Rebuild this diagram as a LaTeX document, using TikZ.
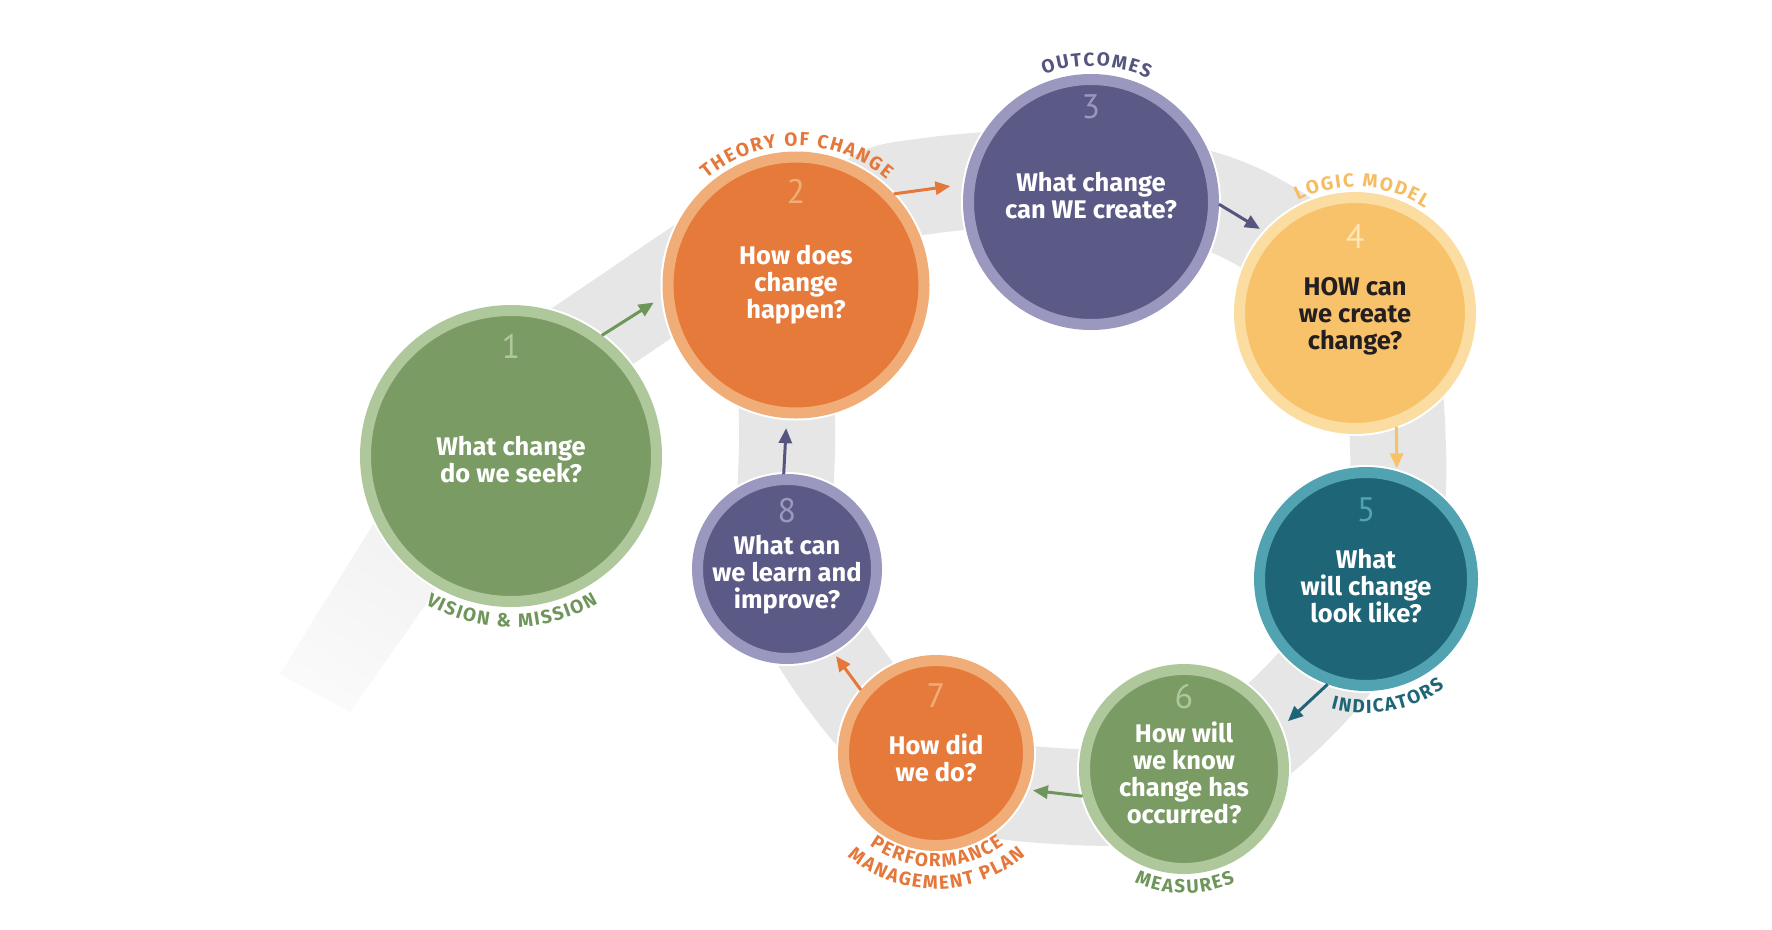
\documentclass[tikz,border=0pt]{standalone}
\usepackage{fontspec}
\setmainfont{Fira Sans}
\newfontfamily\numfont{PT Sans}
\newfontfamily\tagfont{Fira Sans}
\usetikzlibrary{arrows.meta,decorations.text}

\definecolor{bandgray}{HTML}{E6E6E6}
\definecolor{tailmid}{HTML}{F0F0F0}
\definecolor{tailend}{HTML}{FAFAFA}
\definecolor{grnF}{HTML}{7A9B63}
\definecolor{grnR}{HTML}{AEC89C}
\definecolor{grnT}{HTML}{6E955A}
\definecolor{orgF}{HTML}{E57A3B}
\definecolor{orgR}{HTML}{F0AD78}
\definecolor{orgT}{HTML}{E5773A}
\definecolor{purF}{HTML}{5B5A87}
\definecolor{purR}{HTML}{9A98BE}
\definecolor{purT}{HTML}{56557F}
\definecolor{ylwF}{HTML}{F8C26B}
\definecolor{ylwR}{HTML}{FBDDA2}
\definecolor{ylwT}{HTML}{F6BD60}
\definecolor{ylwN}{HTML}{FDE6B8}
\definecolor{tealF}{HTML}{1E6677}
\definecolor{tealR}{HTML}{52A3B1}
\definecolor{inkD}{HTML}{231F20}

\begin{document}
\begin{tikzpicture}[x=1pt,y=1pt,
  stagecircle/.style n args={3}{circle,inner sep=0pt,minimum size=#1,fill=#2,draw=#3,
    line width=11pt,preaction={draw=white,line width=15pt}},
  stagenum/.style={text=#1,font=\numfont\fontsize{34}{34}\selectfont},
  stagetext/.style={text=#1,align=center,font=\bfseries\fontsize{25.5}{27}\selectfont},
  flowarrow/.style={draw=#1,line width=3pt,-{Triangle[length=15pt,width=13pt]}},
  tagarc/.style 2 args={decorate,decoration={text along path,text align=center,
    text={|\tagfont\bfseries\fontsize{19}{19}\selectfont\color{#1}\kern1.7pt|#2}}}]
  \fill[white] (0,0) rectangle (1772,-929); % 背景
  \useasboundingbox (0,0) rectangle (1772,-929); % 図の範囲
  \shade[top color=tailmid,bottom color=tailend,shading angle=-32]
    (280,-674) -- (402,-478) -- (478,-530) -- (350,-712) -- cycle; % 左下へ消えていく帯
  \fill[bandgray] plot[smooth] coordinates {(392,-484) (478,-365) (623,-260) (753,-173)}
    -- plot[smooth] coordinates {(807,-247) (677,-334) (544,-431) (468,-536)}
    -- cycle; % 円1から円2へ入る帯
  \draw[bandgray,line width=96pt] plot[smooth cycle,tension=0.6] coordinates {
    (860,-212) (927,-186) (1088,-180) (1243,-214) (1370,-318) (1398,-448)
    (1380,-585) (1300,-700) (1184,-785) (1057,-796) (936,-770) (843,-676)
    (790,-572) (787,-448) (795,-320)}; % 循環する灰色の帯

  \node[stagecircle={291pt}{grnF}{grnR}] (c1) at (511,-456) {}; % 1
  \node[stagecircle={256pt}{orgF}{orgR}] (c2) at (796,-285) {}; % 2
  \node[stagecircle={245pt}{purF}{purR}] (c3) at (1091,-202) {}; % 3
  \node[stagecircle={231pt}{ylwF}{ylwR}] (c4) at (1355,-313) {}; % 4
  \node[stagecircle={213pt}{tealF}{tealR}] (c5) at (1366,-579) {}; % 5
  \node[stagecircle={199pt}{grnF}{grnR}] (c6) at (1184,-769) {}; % 6
  \node[stagecircle={185pt}{orgF}{orgR}] (c7) at (936,-753) {}; % 7
  \node[stagecircle={179pt}{purF}{purR}] (c8) at (787,-569) {}; % 8

  \node[stagenum=grnR] (n1) at ([yshift=110pt]c1.center) {1}; % 番号
  \node[stagenum=orgR] (n2) at ([yshift=94pt]c2.center) {2};
  \node[stagenum=purR] (n3) at ([yshift=95pt]c3.center) {3};
  \node[stagenum=ylwN] (n4) at ([yshift=77pt]c4.center) {4};
  \node[stagenum=tealR] (n5) at ([yshift=69pt]c5.center) {5};
  \node[stagenum=grnR] (n6) at ([yshift=72pt]c6.center) {6};
  \node[stagenum=orgR] (n7) at ([yshift=57pt]c7.center) {7};
  \node[stagenum=purR] (n8) at ([yshift=58pt]c8.center) {8};

  \node[stagetext=white] (t1) at ([yshift=-4pt]c1.center) {What change\\do we seek?}; % 問い
  \node[stagetext=white] (t2) at (c2.center) {How does\\change\\happen?};
  \node[stagetext=white] (t3) at ([yshift=6pt]c3.center) {What change\\can WE create?};
  \node[stagetext=inkD] (t4) at ([yshift=-3pt]c4.center) {HOW can\\we create\\change?};
  \node[stagetext=white] (t5) at ([yshift=-7pt]c5.center) {What\\will change\\look like?};
  \node[stagetext=white] (t6) at ([yshift=-4pt]c6.center) {How will\\we know\\change has\\occurred?};
  \node[stagetext=white] (t7) at ([yshift=-5pt]c7.center) {How did\\we do?};
  \node[stagetext=white] (t8) at ([yshift=-6pt]c8.center) {What can\\we learn and\\improve?};

  \draw[flowarrow=grnT,shorten >=11pt] (c1.53) -- (c2.185); % 1から2へ
  \draw[flowarrow=orgT,shorten >=14pt] (c2.43) -- (c3.172); % 2から3へ
  \draw[flowarrow=purT,shorten >=6pt] (c3.-1) -- (c4.138); % 3から4へ
  \draw[flowarrow=ylwF,shorten >=3pt] (c4.-70) -- (c5.74); % 4から5へ
  \draw[flowarrow=tealF,shorten >=10pt] (c5.-110) -- (c6.23); % 5から6へ
  \draw[flowarrow=grnT,shorten >=6pt] (c6.195) -- (c7.-22); % 6から7へ
  \draw[flowarrow=orgT,shorten >=5pt] (c7.140) -- (c8.-61); % 7から8へ
  \draw[flowarrow=purT,shorten >=10pt] (c8.92) -- (c2.-94); % 8から2へ

  \path[tagarc={grnT}{VISION {\&} MISSION}]
    ([shift={(200:171pt)}]c1.center) arc[start angle=200,end angle=340,radius=171pt]; % 円1の下の文字
  \path[tagarc={orgT}{THEORY OF CHANGE}]
    ([shift={(160:139pt)}]c2.center) arc[start angle=160,end angle=20,radius=139pt]; % 円2の上の文字
  \path[tagarc={purT}{OUTCOMES}]
    ([shift={(158:136pt)}]c3.center) arc[start angle=158,end angle=18,radius=136pt]; % 円3の上の文字
  \path[tagarc={ylwT}{LOGIC MODEL}]
    ([shift={(157:126pt)}]c4.center) arc[start angle=157,end angle=17,radius=126pt]; % 円4の上の文字
  \path[tagarc={tealF}{INDICATORS}]
    ([shift={(-150:134pt)}]c5.center) arc[start angle=-150,end angle=-10,radius=134pt]; % 円5の下の文字
  \path[tagarc={grnT}{MEASURES}]
    ([shift={(200:124pt)}]c6.center) arc[start angle=200,end angle=340,radius=124pt]; % 円6の下の文字
  \path[tagarc={orgT}{PERFORMANCE}]
    ([shift={(200:114pt)}]c7.center) arc[start angle=200,end angle=340,radius=114pt]; % 円7の下の文字（内側）
  \path[tagarc={orgT}{MANAGEMENT PLAN}]
    ([shift={(200:136pt)}]c7.center) arc[start angle=200,end angle=340,radius=136pt]; % 円7の下の文字（外側）
\end{tikzpicture}
\end{document}
